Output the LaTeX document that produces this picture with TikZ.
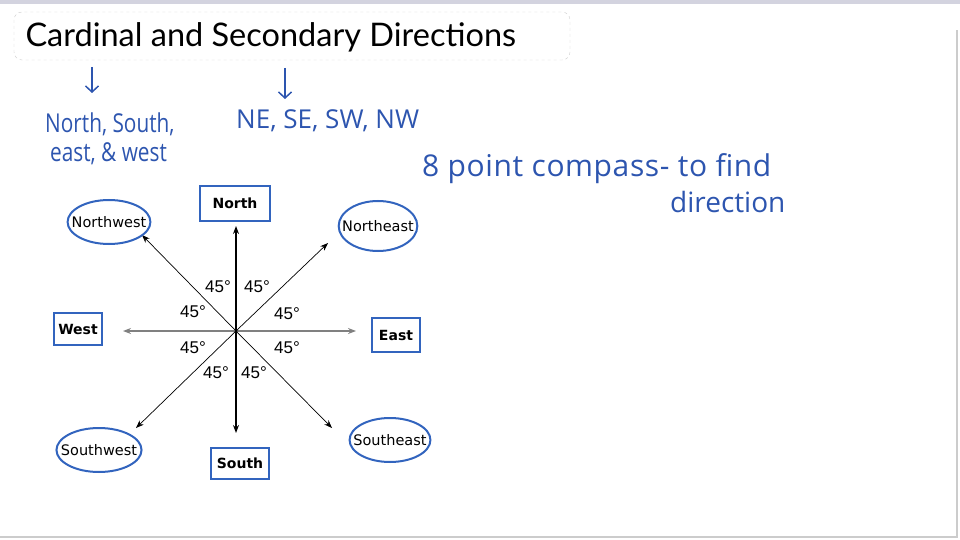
\documentclass[tikz,border=0pt]{standalone}
\usepackage{fontspec}
\setmainfont{DejaVu Sans}
\newfontfamily\titlefont{Lato}
\newfontfamily\handfont[FakeStretch=0.8]{Open Sans}
\newfontfamily\handwide{Open Sans}
\newfontfamily\degfont{Liberation Sans}
\usetikzlibrary{arrows.meta, shapes.geometric}

\definecolor{ink}{RGB}{45,85,175}
\definecolor{boxblue}{RGB}{50,100,190}

\tikzset{
  cardbox/.style={draw=boxblue, line width=2pt, rectangle, inner sep=0pt,
    minimum width=50pt, minimum height=32pt, font=\bfseries\fontsize{14}{16}\selectfont},
  midbox/.style={draw=boxblue, line width=2pt, ellipse, inner xsep=-8pt, inner ysep=0pt,
    minimum height=44pt, font=\fontsize{14.5}{16}\selectfont},
  deg/.style={font=\degfont\fontsize{17}{19}\selectfont},
  hand/.style={text=ink, font=\handfont\fontsize{26}{28}\selectfont, anchor=base west, inner sep=0pt},
  tip/.style={-{Stealth[length=8pt,width=6pt]}},
}

\begin{document}
\begin{tikzpicture}[x=1pt, y=-1pt]
	\useasboundingbox (0,0) rectangle (960,540);
	\fill[blue!15!gray!30] (0,0) rectangle (960,4);
	\draw[gray!40, line width=1.5pt] (0,537) -- (957,537) -- (957,30);
	%
	\draw[gray!40, dashed, rounded corners=8pt] (14,12) rectangle (570,60);
	\node[anchor=west, font=\titlefont\fontsize{32.5}{36}\selectfont] (title) at (22,37) {Cardinal and Secondary Directions};
	%
	\node[hand] (cardtxt) at (45,133) {North, South,};
	\node[hand] (cardtxt2) at (50,162) {east, \& west};
	\node[hand, font=\handwide\fontsize{26}{28}\selectfont] (sectxt) at (236,129) {NE, SE, SW, NW};
	\node[hand, font=\handwide\fontsize{30}{32}\selectfont\addfontfeature{LetterSpace=2}] (comptxt) at (422,177) {8 point compass- to find};
	\node[hand, font=\handwide\fontsize{28}{30}\selectfont] (comptxt2) at (670,212) {direction};
	\coordinate (ca) at (92,67);
	\coordinate (cb) at (92,93);
	\coordinate (sa) at (285,68);
	\coordinate (sb) at (285,99);
	\draw[ink, line width=1.5pt, -{Straight Barb[length=6pt,width=13pt]}] (ca) -- (cb);
	\draw[ink, line width=1.5pt, -{Straight Barb[length=6pt,width=13pt]}] (sa) -- (sb);
	%
	\coordinate (c) at (236,331);
	\coordinate (n) at (236,226);
	\coordinate (s) at (236,433);
	\coordinate (e) at (356,331);
	\coordinate (w) at (123,331);
	\coordinate (ne) at (328,243);
	\coordinate (nw) at (142,235);
	\coordinate (se) at (332,428);
	\coordinate (sw) at (136,428);
	\draw[black, line width=1.3pt, tip] (c) -- (n);
	\draw[black, line width=1.3pt, tip] (c) -- (s);
	\draw[gray, line width=1.4pt, tip] (c) -- (e);
	\draw[gray, line width=1.4pt, tip] (c) -- (w);
	\draw[black, line width=0.7pt, tip] (c) -- (ne);
	\draw[black, line width=0.7pt, tip] (c) -- (nw);
	\draw[black, line width=0.7pt, tip] (c) -- (se);
	\draw[black, line width=0.7pt, tip] (c) -- (sw);
	\fill (c) circle (1.5pt);
	%
	\node[cardbox, minimum width=70pt, minimum height=35pt] (north) at (235,203) {North};
	\node[cardbox, minimum width=58pt, minimum height=31pt] (south) at (240,463) {South};
	\node[cardbox, minimum width=48pt, minimum height=34pt] (east) at (396,335) {East};
	\node[cardbox, minimum width=48pt] (west) at (78,329) {West};
	\node[midbox] (nwest) at (109,222) {Northwest};
	\node[midbox, minimum height=50pt] (neast) at (378,226) {Northeast};
	\node[midbox] (swest) at (99,450) {Southwest};
	\node[midbox] (seast) at (390,440) {Southeast};
	%
	\node[deg] (d1) at (218,287) {45°};
	\node[deg] (d2) at (257,287) {45°};
	\node[deg] (d3) at (193,312) {45°};
	\node[deg] (d4) at (287,314) {45°};
	\node[deg] (d5) at (193,348) {45°};
	\node[deg] (d6) at (287,348) {45°};
	\node[deg] (d7) at (216,373) {45°};
	\node[deg] (d8) at (254,373) {45°};
\end{tikzpicture}
\end{document}
